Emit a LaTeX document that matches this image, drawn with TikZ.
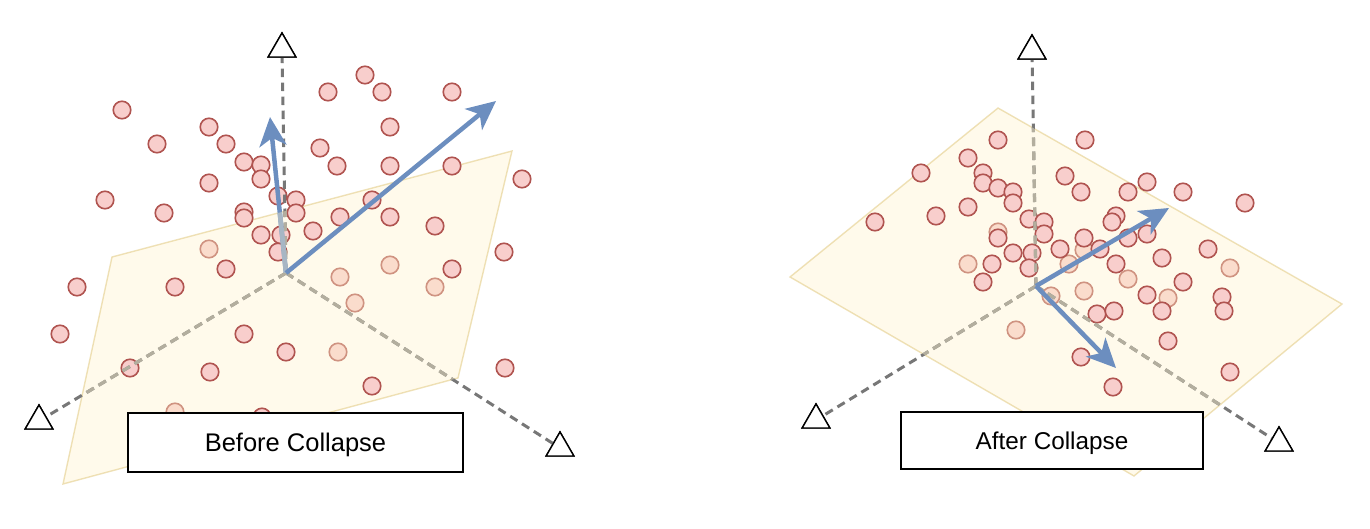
\documentclass[tikz,border=0pt]{standalone}
\usepackage{fontspec}
\setmainfont{Liberation Sans}
\usetikzlibrary{arrows.meta,shapes.geometric}
\definecolor{dotfill}{HTML}{F8CECC}
\definecolor{dotdraw}{HTML}{B05450}
\definecolor{planefill}{HTML}{FFF2CC}
\definecolor{planedraw}{HTML}{D6B656}
\definecolor{axisgray}{HTML}{777777}
\definecolor{axislight}{HTML}{B3AE9E}
\definecolor{arrowblue}{HTML}{6C8EBF}
\definecolor{arrowlight}{HTML}{A7B6C4}
\begin{document}
\begin{tikzpicture}[x=1pt,y=-1pt,
  dot/.style={circle,minimum size=17.5pt,inner sep=0pt,fill=dotfill,draw=dotdraw,line width=1.6pt},
  plane/.style={fill=planefill,fill opacity=0.4,draw=planedraw,draw opacity=0.4,line width=1.4pt},
  tri/.style={regular polygon,regular polygon sides=3,minimum size=32pt,inner sep=0pt,draw=black,fill=white,line width=1.4pt},
  axis/.style={draw=axisgray,line width=3pt,dash pattern=on 8.5pt off 5.5pt},
  axislt/.style={draw=axislight,line width=3.2pt,dash pattern=on 8.5pt off 5.5pt},
  vec/.style={draw=arrowblue,line width=4.5pt,-{Stealth[length=29pt,width=27pt,inset=8pt]}},
  veclt/.style={draw=arrowlight,line width=4.7pt},
  labelbox/.style={draw=black,fill=white,line width=1.3pt,inner sep=0pt,text depth=0pt}
]
\useasboundingbox (0,0) rectangle (1370,529);

% ---------- LEFT PANEL ----------
% points behind the plane
\foreach \x/\y [count=\i] in {209/249,390/265,340/277,435/287,355/303,338/352,175/412}
  \node[dot] (lb\i) at (\x,\y) {};
% plane
\draw[plane] (112,257) -- (512,151) -- (458,378) -- (63,484) -- cycle;
% points in front
\foreach \x/\y [count=\i] in {122/110,209/127,157/144,226/144,244/162,261/165,261/179,209/183,105/200,164/213,244/212,244/218,278/196,296/200,296/213,261/235,281/235,278/252,226/269,313/231,340/217,372/200,390/217,390/166,390/127,337/166,320/148,328/92,365/75,382/92,452/92,452/166,522/179,435/226,504/252,452/269,175/287,77/287,60/334,244/334,286/352,130/368,210/372,372/386,505/368,262/417}
  \node[dot] (lf\i) at (\x,\y) {};
% axes
\coordinate (oL) at (286,273);
\node[tri] (tLtop) at (282,49) {};
\node[tri] (tLleft) at (39,421) {};
\node[tri] (tLright) at (560,448) {};
\coordinate (vLs) at (270,117);
\coordinate (vLb) at (496,101);
\draw[axis] (oL) -- (tLtop);
\draw[axis] (oL) -- (tLleft);
\draw[axis] (oL) -- (tLright);
\draw[vec] (oL) -- (vLs);
\begin{scope}
  \clip (112,257) -- (512,151) -- (458,378) -- (63,484) -- cycle;
  \draw[axislt] (oL) -- (tLtop);
  \draw[axislt] (oL) -- (tLleft);
  \draw[axislt] (oL) -- (tLright);
  \draw[veclt] (oL) -- (vLs);
\end{scope}
\node[tri] at (tLtop) {};
\node[tri] at (tLleft) {};
\node[tri] at (tLright) {};
\draw[vec] (oL) -- (vLb);
\node[labelbox,minimum width=335pt,minimum height=59pt,text height=18.3pt,font=\fontsize{25.5}{30}\selectfont] (labL) at (295.5,442.5) {Before Collapse};

% ---------- RIGHT PANEL ----------
\foreach \x/\y [count=\i] in {998/232,968/264,1084/250,1069/264,1230/268,1128/279,1051/296,1084/291,1168/298,1016/330}
  \node[dot] (rb\i) at (\x,\y) {};
\draw[plane] (998,108) -- (1342,304) -- (1134,476) -- (790,277) -- cycle;
\foreach \x/\y [count=\i] in {998/140,1085/140,968/158,921/173,983/173,983/183,998/188,1013/192,1013/203,1065/176,1081/192,1128/192,1147/182,1183/192,1245/203,875/222,936/216,968/207,1029/219,1044/222,1044/234,998/238,1013/253,1032/253,1029/268,992/264,1060/249,1084/238,1100/249,1116/216,1112/222,1128/238,1147/234,1116/264,1162/258,1208/249,1183/282,983/282,1147/295,1222/297,1224/311,1162/311,1097/314,1114/311,1168/341,1081/357,1230/372,1113/387}
  \node[dot] (rf\i) at (\x,\y) {};
\coordinate (oR) at (1036,286);
\node[tri] (tRtop) at (1032,51) {};
\node[tri] (tRleft) at (816,420) {};
\node[tri] (tRright) at (1279,443) {};
\coordinate (vRa) at (1169,208);
\coordinate (vRb) at (1116,368);
\draw[axis] (oR) -- (tRtop);
\draw[axis] (oR) -- (tRleft);
\draw[axis] (oR) -- (tRright);
\begin{scope}
  \clip (998,108) -- (1342,304) -- (1134,476) -- (790,277) -- cycle;
  \draw[axislt] (oR) -- (tRtop);
  \draw[axislt] (oR) -- (tRleft);
  \draw[axislt] (oR) -- (tRright);
\end{scope}
\node[tri] at (tRtop) {};
\node[tri] at (tRleft) {};
\node[tri] at (tRright) {};
\draw[vec] (oR) -- (vRa);
\draw[vec] (oR) -- (vRb);
\node[labelbox,minimum width=302pt,minimum height=57pt,text height=17.4pt,font=\fontsize{24.3}{29}\selectfont] (labR) at (1052,440.5) {After Collapse};
\end{tikzpicture}
\end{document}
